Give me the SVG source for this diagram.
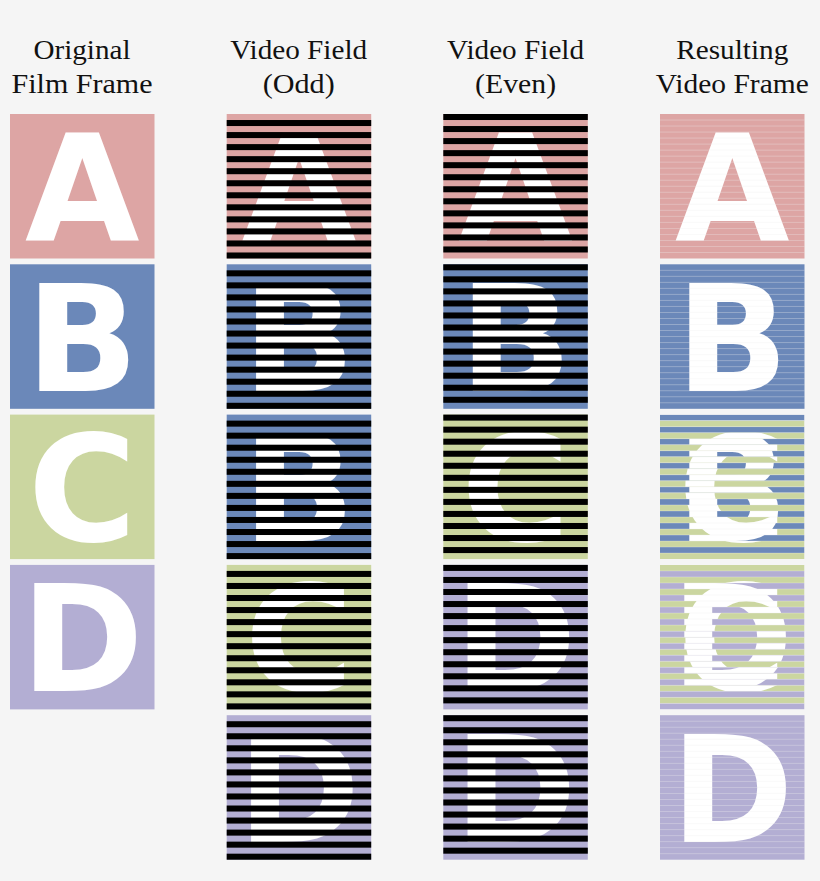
<svg xmlns="http://www.w3.org/2000/svg" xmlns:xlink="http://www.w3.org/1999/xlink" width="820" height="881" viewBox="0 0 820 881">
<style>
.hdr{font-family:"Liberation Serif","Times New Roman",serif;font-size:26.5px;fill:#111;text-anchor:middle}
.ltr{font-family:"DejaVu Sans",sans-serif;font-weight:bold;font-size:148px;fill:#fff;text-anchor:middle}
.blk{fill:#000}
.seam{stroke:#f0f0f0;stroke-width:0.8;opacity:0.4}
</style>
<defs>
<g id="fA"><rect width="144.5" height="144.5" fill="#dda5a4"/><text class="ltr" x="72.25" y="126.5">A</text></g>
<g id="fB"><rect width="144.5" height="144.5" fill="#6b88b9"/><text class="ltr" x="72.25" y="126.5">B</text></g>
<g id="fC"><rect width="144.5" height="144.5" fill="#cbd6a0"/><text class="ltr" x="72.25" y="126.5">C</text></g>
<g id="fD"><rect width="144.5" height="144.5" fill="#b3aed3"/><text class="ltr" x="72.25" y="126.5">D</text></g>
<g id="linesOdd">
<rect width="144.5" height="6.02" y="0"/><rect width="144.5" height="6.02" y="12.04"/><rect width="144.5" height="6.02" y="24.08"/><rect width="144.5" height="6.02" y="36.13"/><rect width="144.5" height="6.02" y="48.17"/><rect width="144.5" height="6.02" y="60.21"/><rect width="144.5" height="6.02" y="72.25"/><rect width="144.5" height="6.02" y="84.29"/><rect width="144.5" height="6.02" y="96.33"/><rect width="144.5" height="6.02" y="108.38"/><rect width="144.5" height="6.02" y="120.42"/><rect width="144.5" height="6.02" y="132.46"/>
</g>
<g id="linesEven">
<rect width="144.5" height="6.02" y="6.02"/><rect width="144.5" height="6.02" y="18.06"/><rect width="144.5" height="6.02" y="30.10"/><rect width="144.5" height="6.02" y="42.15"/><rect width="144.5" height="6.02" y="54.19"/><rect width="144.5" height="6.02" y="66.23"/><rect width="144.5" height="6.02" y="78.27"/><rect width="144.5" height="6.02" y="90.31"/><rect width="144.5" height="6.02" y="102.35"/><rect width="144.5" height="6.02" y="114.40"/><rect width="144.5" height="6.02" y="126.44"/><rect width="144.5" height="6.02" y="138.48"/>
</g>
<clipPath id="cOdd" clipPathUnits="userSpaceOnUse">
<rect width="144.5" height="6.02" y="0"/><rect width="144.5" height="6.02" y="12.04"/><rect width="144.5" height="6.02" y="24.08"/><rect width="144.5" height="6.02" y="36.13"/><rect width="144.5" height="6.02" y="48.17"/><rect width="144.5" height="6.02" y="60.21"/><rect width="144.5" height="6.02" y="72.25"/><rect width="144.5" height="6.02" y="84.29"/><rect width="144.5" height="6.02" y="96.33"/><rect width="144.5" height="6.02" y="108.38"/><rect width="144.5" height="6.02" y="120.42"/><rect width="144.5" height="6.02" y="132.46"/>
</clipPath>
<clipPath id="cEven" clipPathUnits="userSpaceOnUse">
<rect width="144.5" height="6.02" y="6.02"/><rect width="144.5" height="6.02" y="18.06"/><rect width="144.5" height="6.02" y="30.10"/><rect width="144.5" height="6.02" y="42.15"/><rect width="144.5" height="6.02" y="54.19"/><rect width="144.5" height="6.02" y="66.23"/><rect width="144.5" height="6.02" y="78.27"/><rect width="144.5" height="6.02" y="90.31"/><rect width="144.5" height="6.02" y="102.35"/><rect width="144.5" height="6.02" y="114.40"/><rect width="144.5" height="6.02" y="126.44"/><rect width="144.5" height="6.04" y="138.48"/>
</clipPath>
<g id="seams">
<line class="seam" x1="0" x2="144.5" y1="6.02" y2="6.02"/><line class="seam" x1="0" x2="144.5" y1="12.04" y2="12.04"/><line class="seam" x1="0" x2="144.5" y1="18.06" y2="18.06"/><line class="seam" x1="0" x2="144.5" y1="24.08" y2="24.08"/><line class="seam" x1="0" x2="144.5" y1="30.10" y2="30.10"/><line class="seam" x1="0" x2="144.5" y1="36.13" y2="36.13"/><line class="seam" x1="0" x2="144.5" y1="42.15" y2="42.15"/><line class="seam" x1="0" x2="144.5" y1="48.17" y2="48.17"/><line class="seam" x1="0" x2="144.5" y1="54.19" y2="54.19"/><line class="seam" x1="0" x2="144.5" y1="60.21" y2="60.21"/><line class="seam" x1="0" x2="144.5" y1="66.23" y2="66.23"/><line class="seam" x1="0" x2="144.5" y1="72.25" y2="72.25"/><line class="seam" x1="0" x2="144.5" y1="78.27" y2="78.27"/><line class="seam" x1="0" x2="144.5" y1="84.29" y2="84.29"/><line class="seam" x1="0" x2="144.5" y1="90.31" y2="90.31"/><line class="seam" x1="0" x2="144.5" y1="96.33" y2="96.33"/><line class="seam" x1="0" x2="144.5" y1="102.35" y2="102.35"/><line class="seam" x1="0" x2="144.5" y1="108.38" y2="108.38"/><line class="seam" x1="0" x2="144.5" y1="114.40" y2="114.40"/><line class="seam" x1="0" x2="144.5" y1="120.42" y2="120.42"/><line class="seam" x1="0" x2="144.5" y1="126.44" y2="126.44"/><line class="seam" x1="0" x2="144.5" y1="132.46" y2="132.46"/><line class="seam" x1="0" x2="144.5" y1="138.48" y2="138.48"/>
</g>
</defs>
<rect width="820" height="881" fill="#f5f5f5"/>

<g id="headers">
<text class="hdr" x="82" y="59" textLength="97" lengthAdjust="spacingAndGlyphs">Original</text>
<text class="hdr" x="82" y="93" textLength="141" lengthAdjust="spacingAndGlyphs">Film Frame</text>
<text class="hdr" x="298.7" y="59" textLength="137" lengthAdjust="spacingAndGlyphs">Video Field</text>
<text class="hdr" x="298.7" y="93" textLength="72" lengthAdjust="spacingAndGlyphs">(Odd)</text>
<text class="hdr" x="515.6" y="59" textLength="137" lengthAdjust="spacingAndGlyphs">Video Field</text>
<text class="hdr" x="515.6" y="93" textLength="81" lengthAdjust="spacingAndGlyphs">(Even)</text>
<text class="hdr" x="732.3" y="59" textLength="112" lengthAdjust="spacingAndGlyphs">Resulting</text>
<text class="hdr" x="732.3" y="93" textLength="153" lengthAdjust="spacingAndGlyphs">Video Frame</text>
</g>

<g id="film">
<g id="film-A" transform="translate(10,114)"><use xlink:href="#fA"/></g>
<g id="film-B" transform="translate(10,264.3)"><use xlink:href="#fB"/></g>
<g id="film-C" transform="translate(10,414.6)"><use xlink:href="#fC"/></g>
<g id="film-D" transform="translate(10,564.9)"><use xlink:href="#fD"/></g>
</g>

<g id="odd">
<g id="odd-A" transform="translate(226.7,114)"><use xlink:href="#fA"/><use class="blk" xlink:href="#linesEven"/></g>
<g id="odd-B" transform="translate(226.7,264.3)"><use xlink:href="#fB"/><use class="blk" xlink:href="#linesEven"/></g>
<g id="odd-B2" transform="translate(226.7,414.6)"><use xlink:href="#fB"/><use class="blk" xlink:href="#linesEven"/></g>
<g id="odd-C" transform="translate(226.7,564.9)"><use xlink:href="#fC"/><use class="blk" xlink:href="#linesEven"/></g>
<g id="odd-D" transform="translate(226.7,715.2)"><use xlink:href="#fD"/><use class="blk" xlink:href="#linesEven"/></g>
</g>

<g id="even">
<g id="even-A" transform="translate(443.3,114)"><use xlink:href="#fA"/><use class="blk" xlink:href="#linesOdd"/></g>
<g id="even-B" transform="translate(443.3,264.3)"><use xlink:href="#fB"/><use class="blk" xlink:href="#linesOdd"/></g>
<g id="even-C" transform="translate(443.3,414.6)"><use xlink:href="#fC"/><use class="blk" xlink:href="#linesOdd"/></g>
<g id="even-D" transform="translate(443.3,564.9)"><use xlink:href="#fD"/><use class="blk" xlink:href="#linesOdd"/></g>
<g id="even-D2" transform="translate(443.3,715.2)"><use xlink:href="#fD"/><use class="blk" xlink:href="#linesOdd"/></g>
</g>

<g id="result">
<g id="res-A" transform="translate(660,114)"><use xlink:href="#fA"/><use xlink:href="#seams"/></g>
<g id="res-B" transform="translate(660,264.3)"><use xlink:href="#fB"/><use xlink:href="#seams"/></g>
<g id="res-BC" transform="translate(660,414.6)"><g clip-path="url(#cOdd)"><use xlink:href="#fB"/></g><g clip-path="url(#cEven)"><use xlink:href="#fC"/></g><use xlink:href="#seams"/></g>
<g id="res-CD" transform="translate(660,564.9)"><g clip-path="url(#cOdd)"><use xlink:href="#fC"/></g><g clip-path="url(#cEven)"><use xlink:href="#fD"/></g><use xlink:href="#seams"/></g>
<g id="res-D" transform="translate(660,715.2)"><use xlink:href="#fD"/><use xlink:href="#seams"/></g>
</g>

<g id="connectors"/>
</svg>
